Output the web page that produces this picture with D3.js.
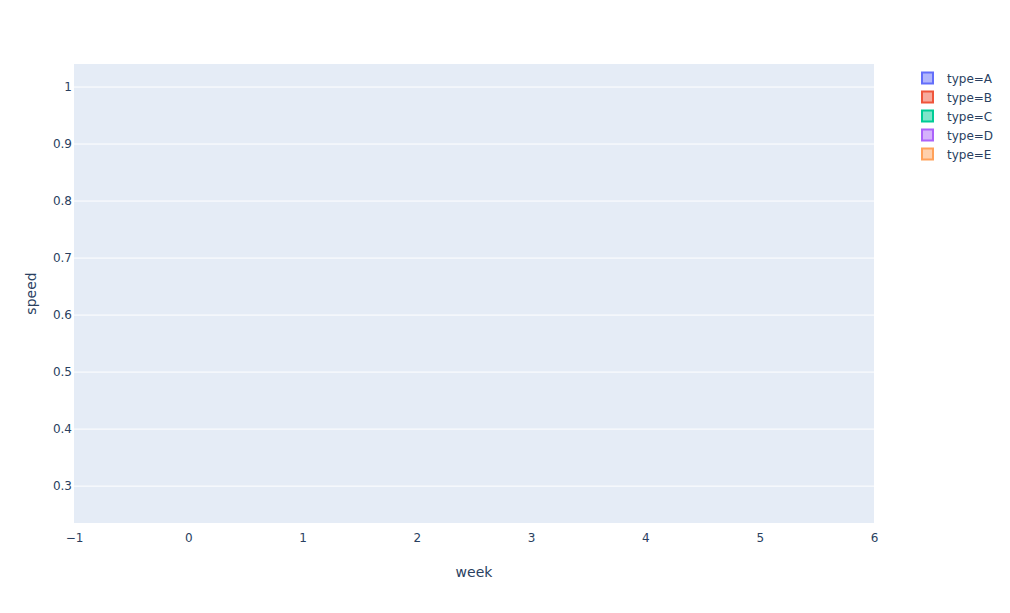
<!DOCTYPE html>
<html><head><meta charset="utf-8">
<script src="https://cdn.jsdelivr.net/npm/d3@7"></script>
<style>body{margin:0;background:#fff;font-family:"DejaVu Sans",Verdana,sans-serif;}</style>
</head><body><div id="chart"></div>
<script>
const categories = ["type=A","type=B","type=C","type=D","type=E"];
const colors = ["#636efa","#EF553B","#00cc96","#ab63fa","#FFA15A"];
// series values (week, speed) — the reference shows no visible data
const seriesA = [];
const seriesB = [];
const seriesC = [];
const seriesD = [];
const seriesE = [];
const xTicks = [-1,0,1,2,3,4,5,6];
const yTicks = [0.3,0.4,0.5,0.6,0.7,0.8,0.9,1];
const xDomain = [-1,6];
const yDomain = [0.2353,1.0404];
const FONT = "'DejaVu Sans',Verdana,sans-serif";

const W=1010,H=613, m={l:74,r:136,t:64,b:90};
const svg=d3.select("#chart").append("svg").attr("width",W).attr("height",H);
const x=d3.scaleLinear().domain(xDomain).range([m.l,W-m.r]);
const y=d3.scaleLinear().domain(yDomain).range([H-m.b,m.t]);
svg.append("rect").attr("x",m.l).attr("y",m.t).attr("width",W-m.r-m.l).attr("height",H-m.b-m.t).attr("fill","#e5ecf6");
svg.append("g").selectAll("line").data(yTicks).join("line")
  .attr("x1",m.l).attr("x2",W-m.r).attr("y1",d=>y(d)).attr("y2",d=>y(d))
  .attr("stroke","#fff").attr("stroke-width",1);
const fmtX=d=>d<0?"\u2212"+Math.abs(d):String(d);
const xa=svg.append("g").attr("transform",`translate(0,${H-m.b})`)
  .call(d3.axisBottom(x).tickValues(xTicks).tickFormat(fmtX).tickSize(0).tickPadding(10));
const ya=svg.append("g").attr("transform",`translate(${m.l},0)`)
  .call(d3.axisLeft(y).tickValues(yTicks).tickFormat(d3.format("")).tickSize(0).tickPadding(2));
[xa,ya].forEach(a=>{a.select(".domain").remove();a.selectAll("text").attr("fill","#2a3f5f").style("font-size","12px").style("font-family",FONT);});
const series=[seriesA,seriesB,seriesC,seriesD,seriesE];
const area=d3.area().x(d=>x(d[0])).y0(y(yDomain[0])).y1(d=>y(d[1]));
series.forEach((s,i)=>{ if(s.length){
  svg.append("path").datum(s).attr("d",area).attr("fill",colors[i]).attr("fill-opacity",0.5).attr("stroke",colors[i]).attr("stroke-width",2);
}});
svg.append("text").attr("x",(m.l+W-m.r)/2).attr("y",577).attr("text-anchor","middle")
  .attr("fill","#2a3f5f").style("font-size","14px").style("font-family",FONT).text("week");
svg.append("text").attr("transform",`translate(36,${(m.t+H-m.b)/2}) rotate(-90)`).attr("text-anchor","middle")
  .attr("fill","#2a3f5f").style("font-size","14px").style("font-family",FONT).text("speed");
const lg=svg.append("g").selectAll("g").data(categories).join("g")
  .attr("transform",(d,i)=>`translate(921,${78+i*19})`);
lg.append("rect").attr("x",1).attr("y",-5.5).attr("width",11).attr("height",11)
  .attr("fill",(d,i)=>colors[i]).attr("fill-opacity",0.5).attr("stroke",(d,i)=>colors[i]).attr("stroke-width",2);
lg.append("text").attr("x",26).attr("y",4.5).attr("fill","#2a3f5f").style("font-size","12px").style("font-family",FONT).text(d=>d);
</script></body></html>
